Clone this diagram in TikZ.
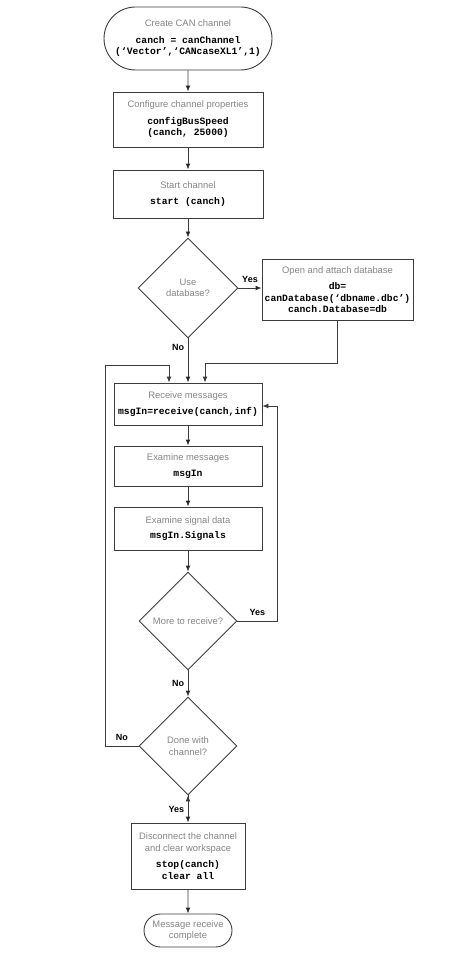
\documentclass[tikz,border=0pt]{standalone}
\usepackage{fontspec}
\setmainfont{Liberation Sans}
\newfontfamily\codefont{Liberation Mono}
\usetikzlibrary{arrows.meta, shapes.geometric, shapes.misc, positioning}
\usepackage{xcolor}
\definecolor{linegray}{HTML}{3C3C3C}
\definecolor{titlegray}{HTML}{858585}

\newcommand{\ttl}[1]{{\color{titlegray}#1}}
\newcommand{\cde}[1]{{\codefont\bfseries\fontsize{9.7}{11.5}\selectfont #1}}

\begin{document}
\begin{tikzpicture}[x=1pt, y=-1pt,
  every node/.style = {font=\fontsize{9.4}{11.5}\selectfont},
  term/.style = {draw=linegray, line width=0.9pt, rounded rectangle, align=center, inner sep=0pt},
  proc/.style = {draw=linegray, line width=0.9pt, rectangle, align=center, inner sep=0pt},
  dec/.style = {draw=linegray, line width=0.9pt, diamond, aspect=1, align=center, inner sep=0pt, minimum size=100pt, text=titlegray},
  lbl/.style = {font=\fontsize{9}{10}\selectfont\bfseries, text=black},
  arr/.style = {draw=linegray, line width=0.9pt, -{Latex[length=6pt, width=5pt]}}]
  \useasboundingbox (0,0) rectangle (474,955);

  \node[term, minimum width=168pt, minimum height=63pt] (create) at (188,38.5)
    {\ttl{Create CAN channel}\\[5pt] \cde{canch = canChannel}\\ \cde{(‘Vector’,‘CANcaseXL1’,1)}};
  \node[proc, minimum width=150pt, minimum height=55pt] (config) at (188,119.5)
    {\ttl{Configure channel properties}\\[5pt] \cde{configBusSpeed}\\ \cde{(canch, 25000)}};
  \node[proc, minimum width=150pt, minimum height=48pt] (startch) at (188,194)
    {\ttl{Start channel}\\[5pt] \cde{start (canch)}};
  \node[dec] (usedb) at (188,288) {Use\\database?};
  \node[proc, minimum width=151pt, minimum height=61pt] (attach) at (337.5,289.5)
    {\ttl{Open and attach database}\\[5pt] \cde{db=}\\ \cde{canDatabase(‘dbname.dbc’)}\\ \cde{canch.Database=db}};
  \node[proc, minimum width=148pt, minimum height=42pt] (recv) at (188,404)
    {\ttl{Receive messages}\\[4pt] \cde{msgIn=receive(canch,inf)}};
  \node[proc, minimum width=148pt, minimum height=40pt] (exmsg) at (188,466)
    {\ttl{Examine messages}\\[4pt] \cde{msgIn}};
  \node[proc, minimum width=148pt, minimum height=43pt] (exsig) at (188,528.5)
    {\ttl{Examine signal data}\\[4pt] \cde{msgIn.Signals}};
  \node[dec, minimum size=98pt] (more) at (188,621) {More to receive?};
  \node[dec, minimum size=98pt] (done) at (188,746) {Done with\\channel?};
  \node[proc, minimum width=114pt, minimum height=66pt] (disc) at (188,856)
    {\ttl{Disconnect the channel}\\ \ttl{and clear workspace}\\[5pt] \cde{stop(canch)}\\ \cde{clear all}};
  \node[term, minimum width=88pt, minimum height=33pt, text=titlegray] (finish) at (188,930.5)
    {Message receive\\complete};

  \coordinate (dbturn) at (337.5,363);
  \coordinate (leftbot) at (105,746);
  \coordinate (lefttop) at (105,365);

  \path[arr]
  (create) edge (config)
  (config) edge (startch)
  (startch) edge (usedb)
  (usedb.east) edge node[lbl, above, yshift=2pt] {Yes} (usedb.east -| attach.west)
  (usedb.south) edge node[lbl, left, pos=0.2] {No} (recv.north)
  (recv) edge (exmsg)
  (exmsg) edge (exsig)
  (exsig) edge (more.north)
  (more.south) edge node[lbl, left] {No} (done.north)
  (done.south) edge node[lbl, left] {Yes} (disc.north)
  (disc) edge (finish);

  \draw[arr] (attach.south) -- (dbturn) -| ([xshift=17pt]recv.north);
  \draw[arr] (done.west) -- node[lbl, above, yshift=2pt] {No} (leftbot) -- (lefttop) -| ([xshift=-19pt]recv.north);
  \draw[arr] (more.east) -- node[lbl, above, yshift=2pt] {Yes} ([xshift=15pt]more.east -| recv.east) |- ([yshift=-2pt]recv.east);
\end{tikzpicture}
\end{document}
